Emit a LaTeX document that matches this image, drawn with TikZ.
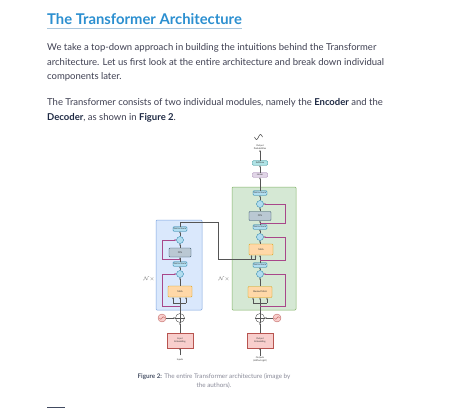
\documentclass[tikz,border=0pt]{standalone}
\usepackage{fontspec}
\setmainfont{Lato}
\usetikzlibrary{arrows.meta}
\definecolor{titleblue}{HTML}{2B8FD0}
\definecolor{ulc}{HTML}{A9C6DC}
\definecolor{bodyc}{HTML}{3F4052}
\definecolor{boldc}{HTML}{1F2A44}
\definecolor{capc}{HTML}{8A8B99}
\definecolor{encfill}{HTML}{DAE8FC}
\definecolor{encdraw}{HTML}{7EA6E0}
\definecolor{decfill}{HTML}{D5E8D4}
\definecolor{decdraw}{HTML}{82B366}
\definecolor{anfill}{HTML}{B1DDF0}
\definecolor{andraw}{HTML}{10739E}
\definecolor{ffnfill}{HTML}{BAC8D3}
\definecolor{ffndraw}{HTML}{23445D}
\definecolor{mhafill}{HTML}{FFD8A8}
\definecolor{mhadraw}{HTML}{D79B00}
\definecolor{embfill}{HTML}{F8CECC}
\definecolor{embdraw}{HTML}{B85450}
\definecolor{linfill}{HTML}{E1D5E7}
\definecolor{lindraw}{HTML}{9673A6}
\definecolor{softfill}{HTML}{B0E3E6}
\definecolor{softdraw}{HTML}{0E8088}
\definecolor{flowc}{HTML}{555555}
\definecolor{resc}{HTML}{A8478A}
\begin{document}
\begin{tikzpicture}[x=1pt,y=-1pt,
  tiny/.style={font=\fontsize{2.3}{2.7}\selectfont, text=black!80},
  blk/.style={draw, rounded corners=0.8pt, line width=0.3pt, inner sep=0, align=center, tiny},
  an/.style={blk, fill=anfill, draw=andraw, minimum width=14pt, minimum height=4.5pt},
  ffn/.style={blk, fill=ffnfill, draw=ffndraw, minimum width=22pt, minimum height=9pt},
  mha/.style={blk, fill=mhafill, draw=mhadraw, minimum width=24pt, minimum height=11pt},
  emb/.style={blk, rounded corners=0pt, fill=embfill, draw=embdraw, minimum width=26pt, minimum height=15pt},
  lin/.style={blk, fill=linfill, draw=lindraw, minimum width=15pt, minimum height=4.5pt},
  soft/.style={blk, fill=softfill, draw=softdraw, minimum width=15pt, minimum height=4.5pt},
  addc/.style={circle, draw=andraw, fill=anfill, minimum size=7pt, inner sep=0, line width=0.3pt},
  pls/.style={circle, draw=flowc, fill=white, minimum size=9pt, inner sep=0, line width=0.4pt},
  pec/.style={circle, draw=embdraw, fill=embfill, minimum size=8pt, inner sep=0, line width=0.3pt},
  flow/.style={-{Stealth[length=2pt,width=1.6pt]}, line width=0.4pt, draw=flowc},
  plain/.style={line width=0.4pt, draw=flowc},
  res/.style={-{Stealth[length=2pt,width=1.8pt]}, line width=0.6pt, draw=resc},
  body/.style={anchor=base west, inner sep=0, font=\fontsize{9.5}{11}\selectfont, text=bodyc},
  capt/.style={anchor=base, inner sep=0, font=\fontsize{6.3}{7}\selectfont, text=capc}
]
\fill[white] (0,0) rectangle (474,409);

% ---------- text ----------
\node[anchor=base west, inner sep=0, font=\fontsize{14.8}{16}\selectfont\bfseries, text=titleblue] (title) at (47,24.5) {The Transformer Architecture};
\draw[ulc, line width=1.2pt] ([yshift=-4.3pt]title.base west) -- ([yshift=-4.3pt]title.base east);
\node[body] (l1) at (47,50.7) {We take a top-down approach in building the intuitions behind the Transformer};
\node[body] (l2) at (47,65.1) {architecture. Let us first look at the entire architecture and break down individual};
\node[body] (l3) at (47,79.5) {components later.};
\node[body] (l4) at (47,106) {The Transformer consists of two individual modules, namely the \textcolor{boldc}{\bfseries Encoder} and the};
\node[body] (l5) at (47,120.4) {\textcolor{boldc}{\bfseries Decoder}, as shown in \textcolor{boldc}{\bfseries Figure 2}.};

\node[capt] (c1) at (214,378) {\textcolor{boldc!80}{\bfseries Figure 2:} The entire Transformer architecture (image by};
\node[capt] (c2) at (214,387) {the authors).};
\draw[boldc!85, line width=1.6pt] (47,407.5) -- (65,407.5);

% ---------- encoder ----------
\node[draw=encdraw, fill=encfill, line width=0.5pt, rounded corners=1pt, minimum width=46pt, minimum height=90pt] (encbox) at (179,265) {};
\node[an] (ean2) at (180,229) {Add \& Norm};
\node[addc] (eadd2) at (180,240) {};
\node[ffn] (effn) at (180,252.5) {FFN};
\node[an] (ean1) at (180,264) {Add \& Norm};
\node[addc] (eadd1) at (180,274) {};
\node[mha] (emha) at (180,291.5) {MHA};
\node[pls] (epe) at (180,318) {};
\draw[plain] (epe.north) -- (epe.south) (epe.west) -- (epe.east);
\node[pec] (epos) at (162,318) {};
\begin{scope}[shift={(epos.center)}]
\draw[embdraw, line width=0.3pt] plot[domain=-2.5:2.5, samples=15] (\x, {-1.2*sin(\x*72)});
\end{scope}
\node[emb] (eemb) at (180,340.5) {Input\\Embedding};
\node[tiny] (einp) at (180,360) {Inputs};
\node[font=\fontsize{5}{6}\selectfont, text=black!60] (enx) at (149,279) {$\mathcal{N}\times$};

\draw[flow] (einp) -- (eemb);
\draw[flow] (eemb) -- (epe);
\draw[flow] (epos) -- (epe);
\draw[flow] (epe) -- (emha);
\coordinate (ebrL) at (173,303);
\coordinate (ebrR) at (186,303);
\draw[plain] (ebrL) -- (ebrR);
\draw[flow] (ebrL) -- (ebrL |- emha.south);
\draw[flow] (ebrR) -- (ebrR |- emha.south);
\draw[flow] (emha) -- (eadd1);
\draw[flow] (eadd1) -- (ean1);
\draw[flow] (ean1) -- (effn);
\draw[flow] (effn) -- (eadd2);
\draw[flow] (eadd2) -- (ean2);
\coordinate (eres1) at (180,306);
\coordinate (eres2) at (180,259.5);
\draw[res] (eres1) -- (162,306) -- (162,274) -- (eadd1.west);
\draw[res] (eres2) -- (162,259.5) -- (162,240) -- (eadd2.west);

% ---------- decoder ----------
\node[draw=decdraw, fill=decfill, line width=0.5pt, rounded corners=1pt, minimum width=64pt, minimum height=123pt] (decbox) at (264,248.5) {};
\node[an] (dan3) at (260,193) {Add \& Norm};
\node[addc] (dadd3) at (260,204) {};
\node[ffn] (dffn) at (260,216) {FFN};
\node[an] (dan2) at (260,227) {Add \& Norm};
\node[addc] (dadd2) at (260,237) {};
\node[mha] (dmha) at (261,249.5) {MHA};
\node[an] (dan1) at (260,265) {Add \& Norm};
\node[addc] (dadd1) at (260,274) {};
\node[mha] (dmmha) at (260,292) {Masked MHA};
\node[pls] (dpe) at (260,318) {};
\draw[plain] (dpe.north) -- (dpe.south) (dpe.west) -- (dpe.east);
\node[pec] (dpos) at (277,318) {};
\begin{scope}[shift={(dpos.center)}]
\draw[embdraw, line width=0.3pt] plot[domain=-2.5:2.5, samples=15] (\x, {-1.2*sin(\x*72)});
\end{scope}
\node[emb] (demb) at (260,340.5) {Output\\Embedding};
\node[tiny, align=center, inner sep=0.5pt] (doutp) at (260,359.5) {Outputs\\(shifted right)};
\node[lin] (dlin) at (260,175) {Linear};
\node[soft] (dsoft) at (260,163) {Softmax};
\node[tiny, align=center, inner sep=0.5pt] (dprob) at (260,147) {Output\\Probabilities};
\node[font=\fontsize{5}{6}\selectfont, text=black!60] (dnx) at (224,279) {$\mathcal{N}\times$};
\begin{scope}[shift={(258.5,137)}]
\draw[black!75, line width=0.5pt] plot[domain=-4:4, samples=25] (\x, {-2.5*sin(\x*45)});
\end{scope}

\draw[flow] (doutp) -- (demb);
\draw[flow] (demb) -- (dpe);
\draw[flow] (dpos) -- (dpe);
\draw[flow] (dpe) -- (dmmha);
\coordinate (dbrL) at (253,303);
\coordinate (dbrR) at (267,303);
\draw[plain] (dbrL) -- (dbrR);
\draw[flow] (dbrL) -- (dbrL |- dmmha.south);
\draw[flow] (dbrR) -- (dbrR |- dmmha.south);
\draw[flow] (dmmha) -- (dadd1);
\draw[flow] (dadd1) -- (dan1);
\draw[flow] (dan1.north) -- (dan1.north |- dmha.south);
\draw[flow] (dmha.north -| dadd2) -- (dadd2);
\draw[flow] (dadd2) -- (dan2);
\draw[flow] (dan2) -- (dffn);
\draw[flow] (dffn) -- (dadd3);
\draw[flow] (dadd3) -- (dan3);
\draw[flow] (dan3) -- (dlin);
\draw[flow] (dlin) -- (dsoft);
\draw[flow] (dsoft) -- (dprob);
\coordinate (dres1) at (260,306);
\coordinate (dres2) at (260,260);
\coordinate (dres3) at (260,223.5);
\draw[res] (dres1) -- (285,306) -- (285,274) -- (dadd1.east);
\draw[res] (dres2) -- (285,260) -- (285,237) -- (dadd2.east);
\draw[res] (dres3) -- (285,223.5) -- (285,204) -- (dadd3.east);

% encoder -> decoder
\coordinate (xk) at (251.5,259);
\coordinate (xv) at (255.5,259);
\draw[plain] (ean2.north) -- (180,222) -- (218,222) -- (218,259) -- (xv);
\draw[flow] (xk) -- (xk |- dmha.south);
\draw[flow] (xv) -- (xv |- dmha.south);
\end{tikzpicture}
\end{document}
